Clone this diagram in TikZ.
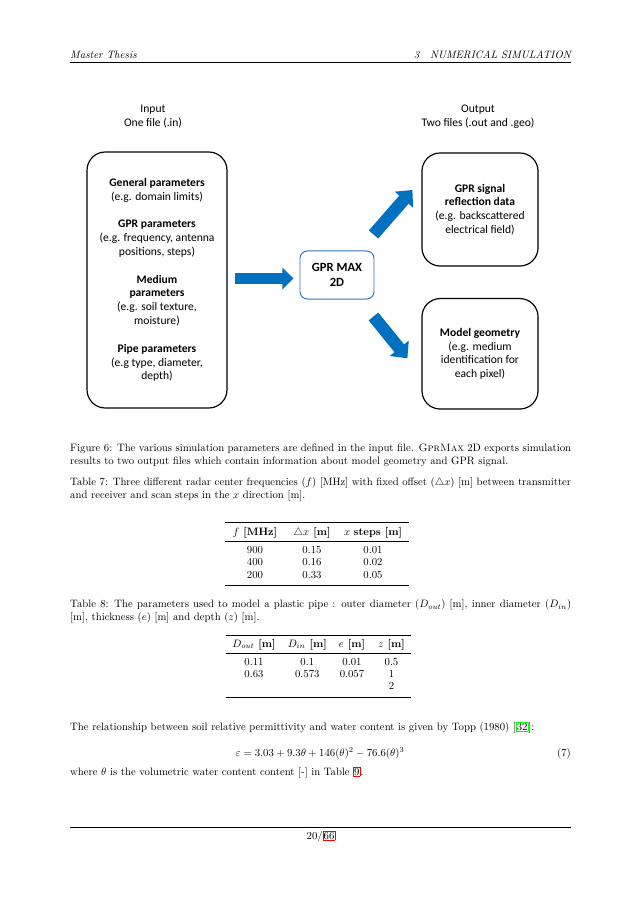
\documentclass[tikz,border=0pt]{standalone}
\usepackage{fontspec}
\newfontfamily\calibri{Carlito}
\usetikzlibrary{arrows.meta, calc}

\definecolor{arrowblue}{HTML}{0070C0}
\definecolor{frameblue}{HTML}{2E75B6}
\definecolor{citegreen}{rgb}{0,1,0}

% hyperref style link border
\newcommand{\linkbox}[2]{{\setlength{\fboxsep}{0.3pt}\setlength{\fboxrule}{0.5pt}\color{#1}\fbox{\color{black}#2}}}

\begin{document}
\begin{tikzpicture}[x=0.9324pt, y=-0.9324pt, every node/.style={inner sep=0pt},
    roundbox/.style={draw, line width=1.1pt, rounded corners=17pt, align=center, font=\calibri\fontsize{10.8}{12.9}\selectfont},
    gprbox/.style={draw=frameblue, line width=0.9pt, rounded corners=7pt, align=center, font=\calibri\bfseries\fontsize{11.7}{14}\selectfont},
    filelabel/.style={align=center, font=\calibri\fontsize{10.8}{13}\selectfont},
    bigarrow/.style={arrowblue, line width=10.3pt, -{Triangle[length=10.3pt, width=19.6pt]}},
    slantarrow/.style={arrowblue, line width=11.5pt, -{Triangle[length=12pt, width=22pt]}},
    para/.style={anchor=north west, text width=467.1pt, align=justify},
    heavyrule/.style={line width=0.8pt},
    lightrule/.style={line width=0.5pt}]
    \fill[white] (0,0) rectangle (638,903);
    \useasboundingbox (0,0) rectangle (638,903);

    % Running head
    \node[anchor=base west, font=\itshape] (headleft) at (70,58.3) {Master Thesis};
    \node[anchor=base east, font=\itshape] (headright) at (571,58.3) {3\quad NUMERICAL SIMULATION};
    \draw[line width=0.5pt] (70,62.2) -- (571,62.2);

    % Figure 6: input -> GPR MAX 2D -> outputs
    \node[filelabel] (inlabel) at (153,116.5) {Input\\One file (.in)};
    \node[filelabel] (outlabel) at (478,117) {Output\\Two files (.out and .geo)};
    \node[roundbox, minimum width=130.5pt, minimum height=238.7pt] (inbox) at (157,280)
        {\textbf{General parameters}\\(e.g. domain limits)\\[12.9pt]
         \textbf{GPR parameters}\\(e.g. frequency, antenna\\positions, steps)\\[12.9pt]
         \textbf{Medium}\\\textbf{parameters}\\(e.g. soil texture,\\moisture)\\[12.9pt]
         \textbf{Pipe parameters}\\(e.g type, diameter,\\depth)};
    \node[gprbox, minimum width=69pt, minimum height=44.8pt] (gprmax) at (337,275) {GPR MAX\\2D};
    \node[roundbox, minimum width=108.2pt, minimum height=105.4pt] (outtop) at (480,209.5)
        {\textbf{GPR signal}\\\textbf{reflection data}\\(e.g. backscattered\\electrical field)};
    \node[roundbox, minimum width=108.2pt, minimum height=103pt] (outbot) at (480,353.8)
        {\textbf{Model geometry}\\(e.g. medium\\identification for\\each pixel)};
    \draw[bigarrow] ($(inbox.east)+(7,-1.5)$) -- ($(gprmax.west)+(-6,3.5)$);
    \draw[slantarrow] ($(gprmax.north east)+(-1,-16)$) -- ($(outtop.west)+(-9,-19.5)$);
    \draw[slantarrow] ($(gprmax.south east)+(-1,17)$) -- ($(outbot.west)+(-14,4.5)$);

    \node[para] (figcap) at (70,442.7) {\strut Figure 6: The various simulation parameters are defined in the input file. \textsc{GprMax} 2D exports simulation\linebreak{} results to two output files which contain information about model geometry and GPR signal.};

    % Table 7
    \node[para] (tabsevencap) at (70,476.3) {\strut Table 7: Three different radar center frequencies ($f$) [MHz] with fixed offset ($\triangle x$) [m] between transmitter\linebreak{} and receiver and scan steps in the $x$ direction [m].};
    \draw[heavyrule] (225,522.7) -- (409,522.7);
    \node[anchor=base] (fhead) at (255,535.5) {\textbf{$f$ [MHz]}};
    \node[anchor=base] (dxhead) at (312,535.5) {\textbf{$\triangle x$ [m]}};
    \node[anchor=base] (stephead) at (373,535.5) {$x$ \textbf{steps [m]}};
    \draw[lightrule] (225,541.7) -- (409,541.7);
    \foreach \f/\dx/\st [count=\r] in {900/0.15/0.01, 400/0.16/0.02, 200/0.33/0.05} {
        \node[anchor=base] (freq\r) at (255,{540.7+12.6*\r}) {\f};
        \node[anchor=base] (offset\r) at (312,{540.7+12.6*\r}) {\dx};
        \node[anchor=base] (scanstep\r) at (373,{540.7+12.6*\r}) {\st};
    }
    \draw[heavyrule] (225,585) -- (409,585);

    % Table 8
    \node[para] (tabeightcap) at (70,598.4) {\strut Table 8: The parameters used to model a plastic pipe : outer diameter ($D_{out}$) [m], inner diameter ($D_{in}$)\linebreak{} [m], thickness ($e$) [m] and depth ($z$) [m].};
    \draw[heavyrule] (226,635) -- (410.7,635);
    \node[anchor=base] (douthead) at (254,647) {\textbf{$D_{out}$ [m]}};
    \node[anchor=base] (dinhead) at (307.3,647) {\textbf{$D_{in}$ [m]}};
    \node[anchor=base] (thickhead) at (352,647) {\textbf{$e$ [m]}};
    \node[anchor=base] (depthhead) at (391.5,647) {\textbf{$z$ [m]}};
    \draw[lightrule] (226,653.3) -- (410.7,653.3);
    \foreach \dout/\din/\thick/\depth [count=\r] in {0.11/0.1/0.01/0.5, 0.63/0.573/0.057/1} {
        \node[anchor=base] (outdiam\r) at (254,{652.8+12.3*\r}) {\dout};
        \node[anchor=base] (indiam\r) at (307.3,{652.8+12.3*\r}) {\din};
        \node[anchor=base] (thick\r) at (352,{652.8+12.3*\r}) {\thick};
        \node[anchor=base] (depth\r) at (391.5,{652.8+12.3*\r}) {\depth};
    }
    \node[anchor=base] (depth3) at (391.5,689.7) {2};
    \draw[heavyrule] (226,697.3) -- (410.7,697.3);

    % Text and equation
    \node[anchor=base west] (topptext) at (70,730.3) {The relationship between soil relative permittivity and water content is given by Topp (1980) [\linkbox{citegreen}{32}]:};
    \node[anchor=base] (eqn) at (320,756) {$\varepsilon = 3.03 + 9.3\theta + 146(\theta)^2 - 76.6(\theta)^3$};
    \node[anchor=base east] (eqnum) at (571,756) {(7)};
    \node[anchor=base west] (wheretext) at (70,775) {where $\theta$ is the volumetric water content content [-] in Table \linkbox{red}{9}.};

    % Page foot
    \draw[line width=0.5pt] (70,827.5) -- (571,827.5);
    \node[anchor=base] (pagenum) at (321,839) {20/\linkbox{red}{66}};
\end{tikzpicture}
\end{document}
